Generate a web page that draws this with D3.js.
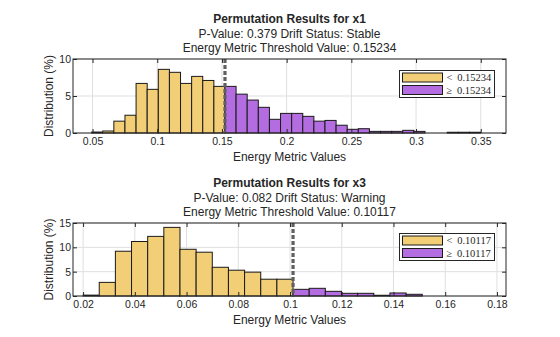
<!DOCTYPE html>
<html>
<head>
<meta charset="utf-8">
<script src="https://cdn.jsdelivr.net/npm/d3@7"></script>
<style>
  body { margin: 0; background: #fff; }
  text { font-family: "Liberation Sans", Arial, sans-serif; fill: #262626; }
</style>
</head>
<body>
<script>
// permutation test histograms, one panel per variable

// x1
var x1Title = 'Permutation Results for x1';
var x1Sub1 = 'P-Value: 0.379 Drift Status: Stable';
var x1Threshold = 0.15234;
var x1BinWidth = 0.008587;
var x1Below = [0.13, 0.27, 1.6, 2.4, 6.7, 5.9, 8.6, 8.2, 6.7, 7.65, 7.1, 6.3];
var x1Above = [6.3, 5.25, 4.45, 3.47, 1.85, 2.65, 2.65, 2.25, 1.6, 1.7, 1.05, 0.5, 0.58,
               0.22, 0.22, 0.22, 0.36, 0.22, 0, 0, 0.1, 0.1, 0.1];
var x1XTicks = [0.05, 0.1, 0.15, 0.2, 0.25, 0.3, 0.35];
var x1YTicks = [0, 5, 10];

// x3
var x3Title = 'Permutation Results for x3';
var x3Sub1 = 'P-Value: 0.082 Drift Status: Warning';
var x3Threshold = 0.10117;
var x3BinWidth = 0.006244;
var x3Below = [0.18, 2.8, 9.2, 11.2, 12.25, 14.1, 9.6, 9.0, 5.9, 5.3, 4.9, 3.45, 3.45];
var x3Above = [1.37, 1.58, 0.96, 0.55, 0.55, 0.15, 0.62, 0.35];
var x3XTicks = [0.02, 0.04, 0.06, 0.08, 0.1, 0.12, 0.14, 0.16, 0.18];
var x3YTicks = [0, 5, 10, 15];

var belowColor = '#F2CF77',
    aboveColor = '#B36DE1';

var width = 560, height = 337;

var svg = d3.select('body').append('svg')
  .attr('width', width)
  .attr('height', height);

function fmt(v) { return String(+v.toFixed(4)); }

function panel(o) {
  var x = d3.scaleLinear().domain(o.xDomain).range([o.left, o.right]);
  var y = d3.scaleLinear().domain(o.yDomain).range([o.bottom, o.top]);
  var g = svg.append('g');
  var cx = (o.left + o.right) / 2;

  // grid
  g.selectAll('line.gx').data(o.xTicks).enter().append('line')
    .attr('x1', function (d) { return x(d); }).attr('x2', function (d) { return x(d); })
    .attr('y1', o.top).attr('y2', o.bottom)
    .attr('stroke', '#dfdfdf').attr('stroke-width', 1);
  g.selectAll('line.gy').data(o.yTicks).enter().append('line')
    .attr('y1', function (d) { return y(d); }).attr('y2', function (d) { return y(d); })
    .attr('x1', o.left).attr('x2', o.right)
    .attr('stroke', '#dfdfdf').attr('stroke-width', 1);

  // bins: below threshold end at the threshold, above ones start there
  var bins = [];
  o.below.forEach(function (h, i) {
    var n = o.below.length;
    bins.push({ x0: o.threshold - (n - i) * o.binWidth, x1: o.threshold - (n - i - 1) * o.binWidth, h: h, c: belowColor });
  });
  o.above.forEach(function (h, i) {
    bins.push({ x0: o.threshold + i * o.binWidth, x1: o.threshold + (i + 1) * o.binWidth, h: h, c: aboveColor });
  });

  g.selectAll('rect.bar').data(bins).enter().append('rect')
    .attr('x', function (d) { return x(d.x0); })
    .attr('width', function (d) { return x(d.x1) - x(d.x0); })
    .attr('y', function (d) { return y(d.h); })
    .attr('height', function (d) { return y(0) - y(d.h); })
    .attr('fill', function (d) { return d.c; })
    .attr('stroke', '#1a1a1a').attr('stroke-width', 1);

  // threshold marker
  g.append('line')
    .attr('x1', x(o.threshold)).attr('x2', x(o.threshold))
    .attr('y1', o.top).attr('y2', o.bottom)
    .attr('stroke', '#606060').attr('stroke-width', 3.2)
    .attr('stroke-dasharray', '4,2');

  // box + axes with inward ticks
  g.append('rect')
    .attr('x', o.left).attr('y', o.top)
    .attr('width', o.right - o.left).attr('height', o.bottom - o.top)
    .attr('fill', 'none').attr('stroke', '#262626').attr('stroke-width', 1);

  g.append('g').attr('transform', 'translate(0,' + o.bottom + ')')
    .call(d3.axisBottom(x).tickValues(o.xTicks).tickSize(-4).tickPadding(5).tickFormat(fmt));
  g.append('g').attr('transform', 'translate(' + o.left + ',0)')
    .call(d3.axisLeft(y).tickValues(o.yTicks).tickSize(-4).tickPadding(2));
  g.append('g').attr('transform', 'translate(0,' + o.top + ')')
    .call(d3.axisTop(x).tickValues(o.xTicks).tickSize(-4).tickFormat(''));
  g.append('g').attr('transform', 'translate(' + o.right + ',0)')
    .call(d3.axisRight(y).tickValues(o.yTicks).tickSize(-4).tickFormat(''));
  g.selectAll('.domain').remove();
  g.selectAll('.tick line').attr('stroke', '#262626');
  g.selectAll('.tick text').attr('fill', '#262626')
    .style('font-family', '"Liberation Sans", Arial, sans-serif').style('font-size', '10.5px');

  // titles
  g.append('text').attr('x', cx).attr('y', o.top - 36)
    .attr('text-anchor', 'middle').style('font-size', '12px').style('font-weight', 'bold')
    .text(o.title);
  g.append('text').attr('x', cx).attr('y', o.top - 21.5)
    .attr('text-anchor', 'middle').style('font-size', '12px')
    .text(o.sub1);
  g.append('text').attr('x', cx).attr('y', o.top - 7.5)
    .attr('text-anchor', 'middle').style('font-size', '12px')
    .text('Energy Metric Threshold Value: ' + o.threshold.toFixed(5));

  // axis labels
  g.append('text').attr('x', cx).attr('y', o.bottom + 28)
    .attr('text-anchor', 'middle').style('font-size', '12px')
    .text('Energy Metric Values');
  g.append('text')
    .attr('transform', 'translate(' + (o.left - 20.5) + ',' + ((o.top + o.bottom) / 2) + ') rotate(-90)')
    .attr('text-anchor', 'middle').style('font-size', '12px')
    .text('Distribution (%)');

  // legend
  var lg = g.append('g').attr('transform', 'translate(' + o.legX + ',' + o.legY + ')');
  lg.append('rect').attr('width', 95).attr('height', 27)
    .attr('fill', '#fff').attr('stroke', '#262626').attr('stroke-width', 1);
  var items = [
    { c: belowColor, sym: '<' },
    { c: aboveColor, sym: '\u2265' }
  ];
  items.forEach(function (it, i) {
    lg.append('rect').attr('x', 3).attr('y', 2.5 + i * 12.5)
      .attr('width', 40).attr('height', 9)
      .attr('fill', it.c).attr('stroke', '#1a1a1a').attr('stroke-width', 1);
    lg.append('text').attr('x', 47).attr('y', 10.5 + i * 12.5)
      .style('font-family', '"Liberation Serif", "Times New Roman", serif')
      .style('font-size', '10.5px').attr('fill', '#000')
      .text(it.sym + '\u2009 ' + o.threshold.toFixed(5));
  });
}

panel({
  left: 73, right: 506, top: 59, bottom: 133,
  xDomain: [0.0349, 0.3695], yDomain: [0, 10],
  xTicks: x1XTicks, yTicks: x1YTicks,
  threshold: x1Threshold, binWidth: x1BinWidth,
  below: x1Below, above: x1Above,
  title: x1Title, sub1: x1Sub1,
  legX: 399.5, legY: 70.5
});

panel({
  left: 73, right: 506, top: 223, bottom: 296,
  xDomain: [0.0161, 0.1835], yDomain: [0, 15],
  xTicks: x3XTicks, yTicks: x3YTicks,
  threshold: x3Threshold, binWidth: x3BinWidth,
  below: x3Below, above: x3Above,
  title: x3Title, sub1: x3Sub1,
  legX: 399.5, legY: 233.5
});
</script>
</body>
</html>
